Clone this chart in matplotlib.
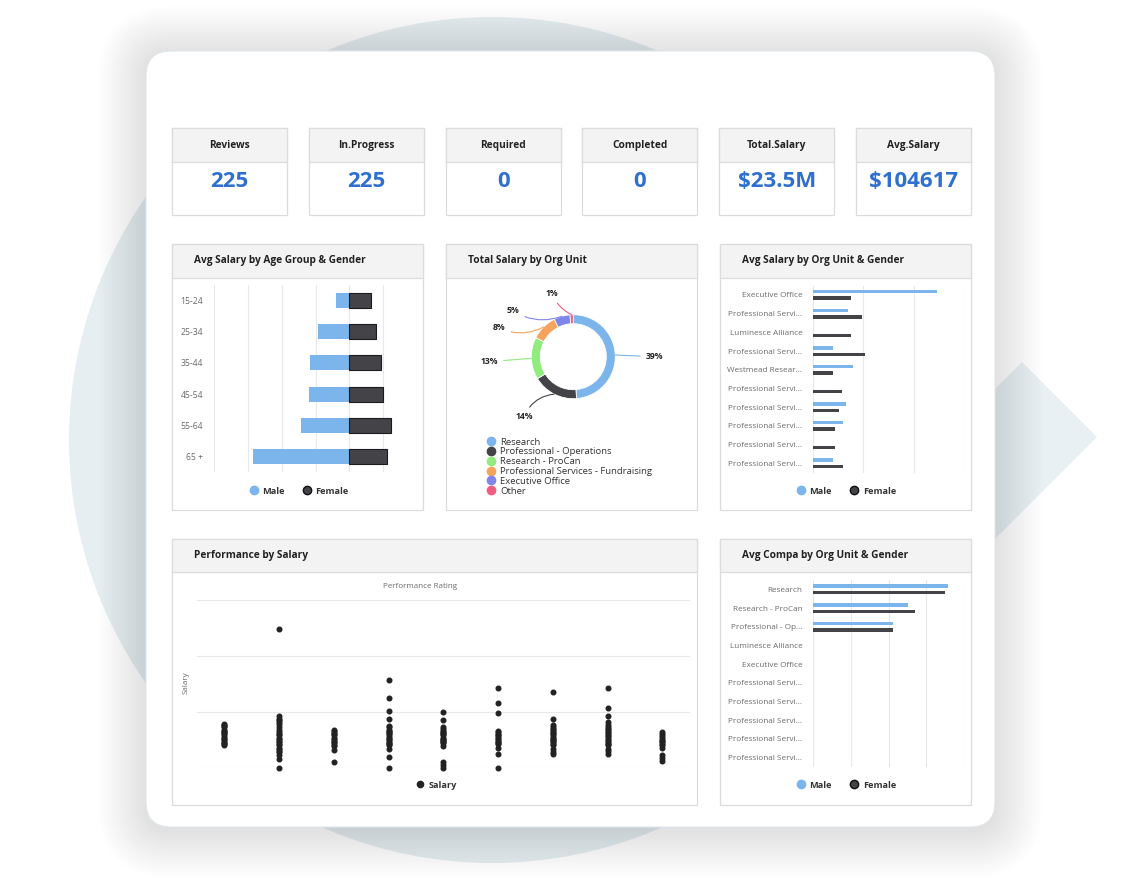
import matplotlib
matplotlib.use("Agg")
import matplotlib.pyplot as plt
from matplotlib.patches import Rectangle, FancyBboxPatch, Circle, Polygon
from matplotlib.lines import Line2D
import numpy as np

W, H = 1128, 886
plt.rcParams['font.family'] = ['Open Sans', 'DejaVu Sans']

BLUE = '#7cb5ec'
DARK = '#434348'
GRID = '#e8e8e8'
TICK = '#6b6b6b'

# ---- data ----
kpi_labels = ['Reviews', 'In.Progress', 'Required', 'Completed', 'Total.Salary', 'Avg.Salary']
kpi_values = ['225', '225', '0', '0', '$23.5M', '$104617']

age_groups = ['15-24', '25-34', '35-44', '45-54', '55-64', '65 +']
age_male = [20, 46, 58, 60, 71, 143]      # avg salary, $k
age_female = [32, 40, 47, 50, 62, 56]

org_units = ['Research', 'Professional - Operations', 'Research - ProCan',
             'Professional Services - Fundraising', 'Executive Office', 'Other']
org_share = [39, 14, 13, 8, 5, 1]
org_colors = ['#7cb5ec', '#434348', '#90ed7d', '#f7a35c', '#8085e9', '#f15c80']

unit_labels = ['Executive Office', 'Professional Servi...', 'Luminesce Alliance',
               'Professional Servi...', 'Westmead Resear...', 'Professional Servi...',
               'Professional Servi...', 'Professional Servi...', 'Professional Servi...',
               'Professional Servi...']
unit_male = [246, 70, 0, 40, 80, 0, 66, 59, 0, 40]
unit_female = [76, 98, 76, 104, 40, 58, 52, 44, 45, 59]

compa_labels = ['Research', 'Research - ProCan', 'Professional - Op...', 'Luminesce Alliance',
                'Executive Office', 'Professional Servi...', 'Professional Servi...',
                'Professional Servi...', 'Professional Servi...', 'Professional Servi...']
compa_male = [0.89, 0.63, 0.53, 0, 0, 0, 0, 0, 0, 0]
compa_female = [0.87, 0.675, 0.53, 0, 0, 0, 0, 0, 0, 0]

ratings = [1, 2, 3, 4, 5, 6, 7, 8, 9]
salary_by_rating = [
    [89, 88, 87, 86, 84, 83, 82, 81, 80, 78, 77, 76, 75, 73, 72, 71, 70],
    [174, 96, 94, 93, 91, 89, 86, 84, 82, 80, 79, 77, 76, 74, 73, 71, 70, 68, 67, 65, 64, 61, 58, 50],
    [84, 83, 81, 80, 79, 77, 76, 74, 73, 72, 70, 69, 66, 55],
    [128, 112, 101, 94, 87, 86, 84, 83, 82, 81, 80, 78, 77, 76, 75, 73, 72, 71, 70, 67, 60, 50],
    [100, 93, 86, 85, 83, 82, 81, 80, 79, 77, 76, 75, 74, 73, 72, 69, 55, 52, 50],
    [121, 108, 99, 83, 82, 80, 79, 78, 77, 76, 74, 73, 72, 71, 68, 62, 50],
    [118, 94, 88, 86, 85, 84, 82, 81, 80, 78, 77, 76, 75, 74, 73, 71, 70, 67, 64, 62],
    [121, 103, 96, 91, 88, 86, 85, 84, 82, 81, 79, 78, 77, 75, 74, 72, 71, 70, 67, 65, 62],
    [82, 80, 78, 77, 75, 74, 73, 71, 70, 68, 61, 59, 56],
]

fig = plt.figure(figsize=(W / 100, H / 100), dpi=100)
fig.patch.set_facecolor('white')


def px_axes(x0, y0, x1, y1, **kw):
    return fig.add_axes([x0 / W, 1 - y1 / H, (x1 - x0) / W, (y1 - y0) / H], **kw)


# background layer in pixel coordinates
bg = px_axes(0, 0, W, H)
bg.set_xlim(0, W)
bg.set_ylim(H, 0)
bg.axis('off')

bg.add_patch(Circle((492, 440), 423, fc='#e6eef2', ec='none'))
bg.add_patch(Polygon([(1022, 362), (1097, 437), (947, 587), (872, 512)], fc='#e8f0f4', ec='none'))

# soft shadow around the card
for k in range(30):
    e = 1 + k * 1.6
    bg.add_patch(FancyBboxPatch((146 - e, 51 - e + 3), 849 + 2 * e, 776 + 2 * e,
                                boxstyle=f'round,pad=0,rounding_size={25 + e}',
                                fc='#8fa2ae', ec='none', alpha=0.008))
bg.add_patch(FancyBboxPatch((146, 51), 849, 776, boxstyle='round,pad=0,rounding_size=25',
                            fc='white', ec='#dfe6ea', lw=0.8))


def panel(x0, y0, x1, y1, title, hh=34, center=False, fs=7.3):
    bg.add_patch(Rectangle((x0, y0), x1 - x0, y1 - y0, fc='white', ec='#dcdcdc', lw=0.9))
    bg.add_patch(Rectangle((x0, y0), x1 - x0, hh, fc='#f3f3f3', ec='#dcdcdc', lw=0.9))
    if center:
        bg.text((x0 + x1) / 2, y0 + hh / 2, title, ha='center', va='center',
                fontsize=fs, fontweight='bold', color='#222')
    else:
        bg.text(x0 + 22, y0 + hh / 2, title, ha='left', va='center',
                fontsize=fs, fontweight='bold', color='#222')


# KPI tiles
for i, (lab, val) in enumerate(zip(kpi_labels, kpi_values)):
    x0 = 172 + i * 136.8
    panel(x0, 128, x0 + 115, 215, lab, center=True, fs=7.3)
    bg.text(x0 + 57.5, 181, val, ha='center', va='center', fontsize=16,
            fontweight='bold', color='#2f6fcf')

panel(172, 244, 423, 510, 'Avg Salary by Age Group & Gender')
panel(446, 244, 697, 510, 'Total Salary by Org Unit')
panel(720, 244, 971, 510, 'Avg Salary by Org Unit & Gender')
panel(172, 539, 697, 805, 'Performance by Salary', hh=33)
panel(720, 539, 971, 805, 'Avg Compa by Org Unit & Gender', hh=33)


def gender_legend(cx, cy):
    handles = [Line2D([], [], ls='', marker='o', ms=6, color=BLUE, label='Male'),
               Line2D([], [], ls='', marker='o', ms=6, color=DARK, mec='#111', label='Female')]
    fig.legend(handles=handles, loc='center', bbox_to_anchor=(cx / W, 1 - cy / H), ncol=2,
               frameon=False, prop={'size': 6.6, 'weight': 'bold'}, handletextpad=0.4,
               columnspacing=2.0, handlelength=1.0, labelcolor='#333')


def clean(ax):
    for s in ax.spines.values():
        s.set_visible(False)
    ax.tick_params(length=0, labelbottom=False)
    ax.set_axisbelow(True)


# ---- Avg Salary by Age Group & Gender ----
ax1 = px_axes(214, 285, 417, 472)
y = np.arange(len(age_groups))
ax1.barh(y, -np.array(age_male), height=0.48, color=BLUE)
ax1.barh(y, age_female, height=0.48, color=DARK, ec='#1b1b1f', lw=0.8)
ax1.set_xlim(-200, 100)
ax1.set_ylim(len(age_groups) - 0.5, -0.5)
ax1.set_xticks(np.arange(-200, 101, 50))
ax1.set_yticks(y, age_groups)
ax1.grid(axis='x', color=GRID, lw=0.8)
clean(ax1)
ax1.tick_params(axis='y', pad=8, labelsize=6.2, labelcolor=TICK)
gender_legend(299, 491)

# ---- Total Salary by Org Unit (donut) ----
axd = px_axes(473.3, 256.7, 673.3, 456.7)
wedges, _ = axd.pie(org_share, colors=org_colors, radius=42, startangle=90, counterclock=False,
                    wedgeprops=dict(width=9, edgecolor='white', linewidth=0.6))
axd.set_xlim(-100, 100)
axd.set_ylim(-100, 100)
axd.set_aspect('equal')
label_pos = [(81, 0), (-49, -60), (-84, -5), (-74, 29), (-60, 46), (-21, 63)]
label_rad = [0.0, -0.3, 0.0, 0.25, 0.25, 0.2]
for w, v, c, (lx, ly), rad in zip(wedges, org_share, org_colors, label_pos, label_rad):
    th = np.deg2rad((w.theta1 + w.theta2) / 2)
    axd.annotate(f'{v}%', xy=(42 * np.cos(th), 42 * np.sin(th)), xytext=(lx, ly),
                 ha='center', va='center', fontsize=6.2, fontweight='bold', color='#222',
                 arrowprops=dict(arrowstyle='-', color=c, lw=0.8, shrinkA=2, shrinkB=0,
                                 connectionstyle=f'arc3,rad={rad}'))
org_handles = [Line2D([], [], ls='', marker='o', ms=6, color=c, label=u)
               for u, c in zip(org_units, org_colors)]
fig.legend(handles=org_handles, loc='upper left', bbox_to_anchor=(482 / W, 1 - 433 / H),
           frameon=False, fontsize=6.8, handletextpad=0.4, handlelength=1.0,
           labelspacing=0.08, borderpad=0, labelcolor='#333')

# ---- Avg Salary by Org Unit & Gender ----
ax3 = px_axes(812.7, 285.6, 964.3, 472.6)
y = np.arange(len(unit_labels))
ax3.barh(y - 0.17, unit_male, height=0.18, color=BLUE, lw=0)
ax3.barh(y + 0.17, unit_female, height=0.18, color=DARK, lw=0)
ax3.set_xlim(0, 300)
ax3.set_ylim(len(unit_labels) - 0.5, -0.5)
ax3.set_xticks([0, 100, 200, 300])
ax3.set_yticks(y, unit_labels)
ax3.grid(axis='x', color=GRID, lw=0.8)
clean(ax3)
ax3.tick_params(axis='y', pad=7.5, labelsize=5.9, labelcolor=TICK)
gender_legend(846, 491)

# ---- Performance by Salary ----
ax4 = px_axes(197, 600, 689.6, 767.7)
xs = np.concatenate([np.full(len(s), r) for r, s in zip(ratings, salary_by_rating)])
ys = np.concatenate(salary_by_rating)
ax4.scatter(xs, ys, s=11, color='#222', zorder=3, clip_on=False)
ax4.set_xlim(0.5, 9.5)
ax4.set_ylim(50, 200)
ax4.set_yticks([50, 100, 150, 200])
ax4.set_xticks([])
ax4.grid(axis='y', color=GRID, lw=0.8)
clean(ax4)
ax4.tick_params(labelleft=False)
ax4.text(0.453, 1.078, 'Performance Rating', transform=ax4.transAxes, ha='center', va='center',
         fontsize=5.8, color=TICK)
ax4.text(-0.022, 0.505, 'Salary', transform=ax4.transAxes, ha='center', va='center',
         rotation=90, fontsize=5.8, color=TICK)
fig.legend(handles=[Line2D([], [], ls='', marker='o', ms=4.5, color='#222', label='Salary')],
           loc='center', bbox_to_anchor=(436 / W, 1 - 785 / H), frameon=False,
           prop={'size': 6.6, 'weight': 'bold'}, handletextpad=0.4, handlelength=1.0,
           labelcolor='#333')

# ---- Avg Compa by Org Unit & Gender ----
ax5 = px_axes(812.7, 580, 964.3, 767)
y = np.arange(len(compa_labels))
ax5.barh(y - 0.17, compa_male, height=0.18, color=BLUE, lw=0)
ax5.barh(y + 0.17, compa_female, height=0.18, color=DARK, lw=0)
ax5.set_xlim(0, 1.0)
ax5.set_ylim(len(compa_labels) - 0.5, -0.5)
ax5.set_xticks([0, 0.25, 0.5, 0.75, 1.0])
ax5.set_yticks(y, compa_labels)
ax5.grid(axis='x', color=GRID, lw=0.8)
clean(ax5)
ax5.tick_params(axis='y', pad=7.5, labelsize=5.9, labelcolor=TICK)
gender_legend(846, 785)

fig.savefig('out.png', dpi=100)
